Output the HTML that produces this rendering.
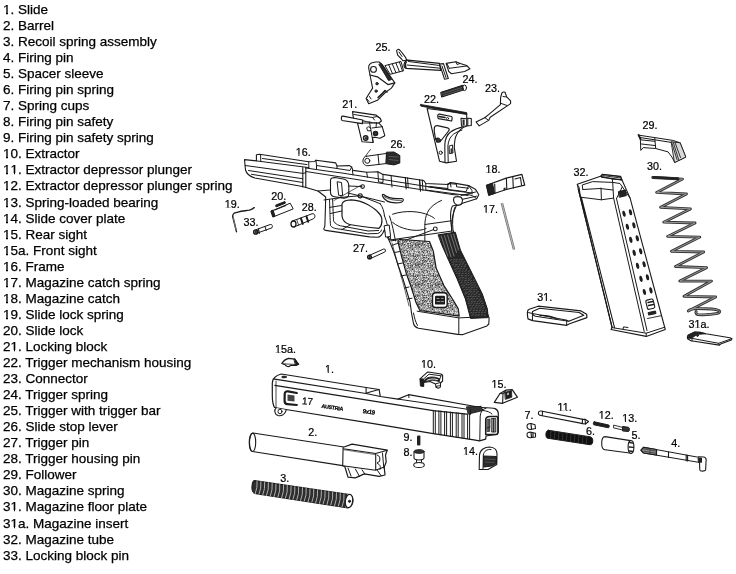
<!DOCTYPE html>
<html><head><meta charset="utf-8">
<style>
html,body{margin:0;padding:0;background:#fff;}
body{width:736px;height:574px;overflow:hidden;position:relative;font-family:"Liberation Sans",sans-serif;filter:blur(0.5px);}
#list{position:absolute;left:3px;top:0;font-size:13.5px;line-height:16px;color:#000;white-space:nowrap;-webkit-text-stroke:0.25px #000;}
#art{position:absolute;left:0;top:0;}
#list>div{position:absolute;left:0;}
.one{position:relative;}
.one::before,.one::after{content:"";position:absolute;background:#fff;top:11.15px;height:2.2px;}
.one::before{left:-0.5px;width:3.85px;}
.one::after{left:4.6px;width:3.2px;}
#art text{font-family:"Liberation Sans",sans-serif;font-size:11px;fill:#000;stroke:#000;stroke-width:0.22px;}
</style></head><body>
<div id="list"><div style="top:2px"><span class="one">1</span>. Slide</div><div style="top:18px">2. Barrel</div><div style="top:34px">3. Recoil spring assembly</div><div style="top:50px">4. Firing pin</div><div style="top:66px">5. Spacer sleeve</div><div style="top:82px">6. Firing pin spring</div><div style="top:98px">7. Spring cups</div><div style="top:114px">8. Firing pin safety</div><div style="top:130px">9. Firing pin safety spring</div><div style="top:146px"><span class="one">1</span>0. Extractor</div><div style="top:162px"><span class="one">1</span><span class="one">1</span>. Extractor depressor plunger</div><div style="top:178px"><span class="one">1</span>2. Extractor depressor plunger spring</div><div style="top:195px"><span class="one">1</span>3. Spring-loaded bearing</div><div style="top:211px"><span class="one">1</span>4. Slide cover plate</div><div style="top:227px"><span class="one">1</span>5. Rear sight</div><div style="top:243px"><span class="one">1</span>5a. Front sight</div><div style="top:259px"><span class="one">1</span>6. Frame</div><div style="top:275px"><span class="one">1</span>7. Magazine catch spring</div><div style="top:291px"><span class="one">1</span>8. Magazine catch</div><div style="top:307px"><span class="one">1</span>9. Slide lock spring</div><div style="top:323px">20. Slide lock</div><div style="top:339px">2<span class="one">1</span>. Locking block</div><div style="top:355px">22. Trigger mechanism housing</div><div style="top:371px">23. Connector</div><div style="top:387px">24. Trigger spring</div><div style="top:403px">25. Trigger with trigger bar</div><div style="top:419px">26. Slide stop lever</div><div style="top:435px">27. Trigger pin</div><div style="top:451px">28. Trigger housing pin</div><div style="top:467px">29. Follower</div><div style="top:483px">30. Magazine spring</div><div style="top:499px">3<span class="one">1</span>. Magazine floor plate</div><div style="top:516px">3<span class="one">1</span>a. Magazine insert</div><div style="top:532px">32. Magazine tube</div><div style="top:548px">33. Locking block pin</div></div>
<svg id="art" width="736" height="574" viewBox="0 0 736 574" fill="none" stroke="#1a1a1a" stroke-width="1" stroke-linejoin="round" stroke-linecap="round">
<defs>
<pattern id="stip" width="20" height="20" patternUnits="userSpaceOnUse"><g stroke="none"><rect width="20" height="20" fill="#9a9a9a"/><rect x="0" y="0" width="1" height="1" fill="#838383"/><rect x="2" y="0" width="1" height="1" fill="#3e3e3e"/><rect x="3" y="0" width="1" height="1" fill="#656565"/><rect x="5" y="0" width="1" height="1" fill="#3c3c3c"/><rect x="7" y="0" width="1" height="1" fill="#757575"/><rect x="8" y="0" width="1" height="1" fill="#d1d1d1"/><rect x="11" y="0" width="1" height="1" fill="#5f5f5f"/><rect x="12" y="0" width="1" height="1" fill="#767676"/><rect x="13" y="0" width="1" height="1" fill="#bfbfbf"/><rect x="15" y="0" width="1" height="1" fill="#606060"/><rect x="16" y="0" width="1" height="1" fill="#e3e3e3"/><rect x="18" y="0" width="1" height="1" fill="#c6c6c6"/><rect x="19" y="0" width="1" height="1" fill="#ebebeb"/><rect x="0" y="1" width="1" height="1" fill="#a2a2a2"/><rect x="1" y="1" width="1" height="1" fill="#dfdfdf"/><rect x="2" y="1" width="1" height="1" fill="#7e7e7e"/><rect x="3" y="1" width="1" height="1" fill="#a5a5a5"/><rect x="4" y="1" width="1" height="1" fill="#525252"/><rect x="6" y="1" width="1" height="1" fill="#575757"/><rect x="8" y="1" width="1" height="1" fill="#e0e0e0"/><rect x="9" y="1" width="1" height="1" fill="#505050"/><rect x="12" y="1" width="1" height="1" fill="#d3d3d3"/><rect x="14" y="1" width="1" height="1" fill="#767676"/><rect x="15" y="1" width="1" height="1" fill="#bababa"/><rect x="16" y="1" width="1" height="1" fill="#d3d3d3"/><rect x="19" y="1" width="1" height="1" fill="#525252"/><rect x="0" y="2" width="1" height="1" fill="#9b9b9b"/><rect x="1" y="2" width="1" height="1" fill="#d9d9d9"/><rect x="2" y="2" width="1" height="1" fill="#7d7d7d"/><rect x="3" y="2" width="1" height="1" fill="#646464"/><rect x="4" y="2" width="1" height="1" fill="#8e8e8e"/><rect x="7" y="2" width="1" height="1" fill="#dfdfdf"/><rect x="8" y="2" width="1" height="1" fill="#dbdbdb"/><rect x="9" y="2" width="1" height="1" fill="#d4d4d4"/><rect x="11" y="2" width="1" height="1" fill="#636363"/><rect x="13" y="2" width="1" height="1" fill="#808080"/><rect x="15" y="2" width="1" height="1" fill="#bfbfbf"/><rect x="16" y="2" width="1" height="1" fill="#818181"/><rect x="17" y="2" width="1" height="1" fill="#727272"/><rect x="1" y="3" width="1" height="1" fill="#6f6f6f"/><rect x="2" y="3" width="1" height="1" fill="#454545"/><rect x="4" y="3" width="1" height="1" fill="#e7e7e7"/><rect x="5" y="3" width="1" height="1" fill="#ababab"/><rect x="6" y="3" width="1" height="1" fill="#d8d8d8"/><rect x="7" y="3" width="1" height="1" fill="#474747"/><rect x="8" y="3" width="1" height="1" fill="#545454"/><rect x="10" y="3" width="1" height="1" fill="#4f4f4f"/><rect x="11" y="3" width="1" height="1" fill="#ebebeb"/><rect x="12" y="3" width="1" height="1" fill="#bababa"/><rect x="13" y="3" width="1" height="1" fill="#939393"/><rect x="15" y="3" width="1" height="1" fill="#565656"/><rect x="18" y="3" width="1" height="1" fill="#7b7b7b"/><rect x="19" y="3" width="1" height="1" fill="#7a7a7a"/><rect x="0" y="4" width="1" height="1" fill="#868686"/><rect x="2" y="4" width="1" height="1" fill="#6d6d6d"/><rect x="4" y="4" width="1" height="1" fill="#404040"/><rect x="6" y="4" width="1" height="1" fill="#d0d0d0"/><rect x="9" y="4" width="1" height="1" fill="#e0e0e0"/><rect x="13" y="4" width="1" height="1" fill="#838383"/><rect x="15" y="4" width="1" height="1" fill="#4e4e4e"/><rect x="17" y="4" width="1" height="1" fill="#707070"/><rect x="18" y="4" width="1" height="1" fill="#464646"/><rect x="19" y="4" width="1" height="1" fill="#575757"/><rect x="1" y="5" width="1" height="1" fill="#525252"/><rect x="5" y="5" width="1" height="1" fill="#b2b2b2"/><rect x="6" y="5" width="1" height="1" fill="#818181"/><rect x="8" y="5" width="1" height="1" fill="#727272"/><rect x="10" y="5" width="1" height="1" fill="#666666"/><rect x="11" y="5" width="1" height="1" fill="#808080"/><rect x="12" y="5" width="1" height="1" fill="#3c3c3c"/><rect x="13" y="5" width="1" height="1" fill="#d4d4d4"/><rect x="14" y="5" width="1" height="1" fill="#d0d0d0"/><rect x="15" y="5" width="1" height="1" fill="#545454"/><rect x="16" y="5" width="1" height="1" fill="#595959"/><rect x="17" y="5" width="1" height="1" fill="#7d7d7d"/><rect x="18" y="5" width="1" height="1" fill="#666666"/><rect x="19" y="5" width="1" height="1" fill="#dbdbdb"/><rect x="0" y="6" width="1" height="1" fill="#c1c1c1"/><rect x="2" y="6" width="1" height="1" fill="#d5d5d5"/><rect x="4" y="6" width="1" height="1" fill="#c9c9c9"/><rect x="5" y="6" width="1" height="1" fill="#737373"/><rect x="6" y="6" width="1" height="1" fill="#e2e2e2"/><rect x="8" y="6" width="1" height="1" fill="#5f5f5f"/><rect x="9" y="6" width="1" height="1" fill="#ebebeb"/><rect x="10" y="6" width="1" height="1" fill="#757575"/><rect x="11" y="6" width="1" height="1" fill="#888888"/><rect x="12" y="6" width="1" height="1" fill="#6a6a6a"/><rect x="13" y="6" width="1" height="1" fill="#e3e3e3"/><rect x="15" y="6" width="1" height="1" fill="#9d9d9d"/><rect x="18" y="6" width="1" height="1" fill="#818181"/><rect x="19" y="6" width="1" height="1" fill="#696969"/><rect x="0" y="7" width="1" height="1" fill="#a3a3a3"/><rect x="1" y="7" width="1" height="1" fill="#e0e0e0"/><rect x="4" y="7" width="1" height="1" fill="#757575"/><rect x="5" y="7" width="1" height="1" fill="#b8b8b8"/><rect x="6" y="7" width="1" height="1" fill="#c3c3c3"/><rect x="7" y="7" width="1" height="1" fill="#d0d0d0"/><rect x="8" y="7" width="1" height="1" fill="#767676"/><rect x="9" y="7" width="1" height="1" fill="#737373"/><rect x="10" y="7" width="1" height="1" fill="#636363"/><rect x="12" y="7" width="1" height="1" fill="#a3a3a3"/><rect x="15" y="7" width="1" height="1" fill="#666666"/><rect x="16" y="7" width="1" height="1" fill="#9a9a9a"/><rect x="19" y="7" width="1" height="1" fill="#505050"/><rect x="5" y="8" width="1" height="1" fill="#cacaca"/><rect x="7" y="8" width="1" height="1" fill="#666666"/><rect x="10" y="8" width="1" height="1" fill="#9a9a9a"/><rect x="12" y="8" width="1" height="1" fill="#6c6c6c"/><rect x="14" y="8" width="1" height="1" fill="#b5b5b5"/><rect x="15" y="8" width="1" height="1" fill="#dbdbdb"/><rect x="19" y="8" width="1" height="1" fill="#d7d7d7"/><rect x="1" y="9" width="1" height="1" fill="#515151"/><rect x="4" y="9" width="1" height="1" fill="#c5c5c5"/><rect x="7" y="9" width="1" height="1" fill="#d1d1d1"/><rect x="8" y="9" width="1" height="1" fill="#d3d3d3"/><rect x="10" y="9" width="1" height="1" fill="#9f9f9f"/><rect x="12" y="9" width="1" height="1" fill="#3c3c3c"/><rect x="15" y="9" width="1" height="1" fill="#d7d7d7"/><rect x="17" y="9" width="1" height="1" fill="#c8c8c8"/><rect x="19" y="9" width="1" height="1" fill="#aeaeae"/><rect x="0" y="10" width="1" height="1" fill="#c6c6c6"/><rect x="2" y="10" width="1" height="1" fill="#b6b6b6"/><rect x="3" y="10" width="1" height="1" fill="#848484"/><rect x="4" y="10" width="1" height="1" fill="#5b5b5b"/><rect x="5" y="10" width="1" height="1" fill="#909090"/><rect x="6" y="10" width="1" height="1" fill="#6b6b6b"/><rect x="9" y="10" width="1" height="1" fill="#cfcfcf"/><rect x="12" y="10" width="1" height="1" fill="#c0c0c0"/><rect x="13" y="10" width="1" height="1" fill="#a4a4a4"/><rect x="14" y="10" width="1" height="1" fill="#888888"/><rect x="15" y="10" width="1" height="1" fill="#d9d9d9"/><rect x="16" y="10" width="1" height="1" fill="#e4e4e4"/><rect x="17" y="10" width="1" height="1" fill="#c0c0c0"/><rect x="19" y="10" width="1" height="1" fill="#ebebeb"/><rect x="0" y="11" width="1" height="1" fill="#d2d2d2"/><rect x="2" y="11" width="1" height="1" fill="#4f4f4f"/><rect x="5" y="11" width="1" height="1" fill="#d7d7d7"/><rect x="6" y="11" width="1" height="1" fill="#aaaaaa"/><rect x="7" y="11" width="1" height="1" fill="#4a4a4a"/><rect x="8" y="11" width="1" height="1" fill="#b9b9b9"/><rect x="9" y="11" width="1" height="1" fill="#5c5c5c"/><rect x="10" y="11" width="1" height="1" fill="#dbdbdb"/><rect x="12" y="11" width="1" height="1" fill="#e1e1e1"/><rect x="14" y="11" width="1" height="1" fill="#797979"/><rect x="19" y="11" width="1" height="1" fill="#676767"/><rect x="0" y="12" width="1" height="1" fill="#b6b6b6"/><rect x="3" y="12" width="1" height="1" fill="#464646"/><rect x="4" y="12" width="1" height="1" fill="#c2c2c2"/><rect x="5" y="12" width="1" height="1" fill="#c6c6c6"/><rect x="7" y="12" width="1" height="1" fill="#5a5a5a"/><rect x="8" y="12" width="1" height="1" fill="#dadada"/><rect x="10" y="12" width="1" height="1" fill="#cccccc"/><rect x="11" y="12" width="1" height="1" fill="#e2e2e2"/><rect x="12" y="12" width="1" height="1" fill="#cccccc"/><rect x="13" y="12" width="1" height="1" fill="#c9c9c9"/><rect x="15" y="12" width="1" height="1" fill="#ebebeb"/><rect x="17" y="12" width="1" height="1" fill="#cccccc"/><rect x="18" y="12" width="1" height="1" fill="#555555"/><rect x="19" y="12" width="1" height="1" fill="#757575"/><rect x="1" y="13" width="1" height="1" fill="#cccccc"/><rect x="2" y="13" width="1" height="1" fill="#d1d1d1"/><rect x="6" y="13" width="1" height="1" fill="#ebebeb"/><rect x="7" y="13" width="1" height="1" fill="#b3b3b3"/><rect x="9" y="13" width="1" height="1" fill="#757575"/><rect x="10" y="13" width="1" height="1" fill="#7a7a7a"/><rect x="11" y="13" width="1" height="1" fill="#b2b2b2"/><rect x="12" y="13" width="1" height="1" fill="#b8b8b8"/><rect x="13" y="13" width="1" height="1" fill="#4a4a4a"/><rect x="15" y="13" width="1" height="1" fill="#b5b5b5"/><rect x="16" y="13" width="1" height="1" fill="#dddddd"/><rect x="17" y="13" width="1" height="1" fill="#d5d5d5"/><rect x="18" y="13" width="1" height="1" fill="#bebebe"/><rect x="2" y="14" width="1" height="1" fill="#686868"/><rect x="3" y="14" width="1" height="1" fill="#e4e4e4"/><rect x="5" y="14" width="1" height="1" fill="#e2e2e2"/><rect x="6" y="14" width="1" height="1" fill="#c8c8c8"/><rect x="10" y="14" width="1" height="1" fill="#636363"/><rect x="11" y="14" width="1" height="1" fill="#d1d1d1"/><rect x="12" y="14" width="1" height="1" fill="#cecece"/><rect x="13" y="14" width="1" height="1" fill="#636363"/><rect x="14" y="14" width="1" height="1" fill="#cdcdcd"/><rect x="17" y="14" width="1" height="1" fill="#808080"/><rect x="1" y="15" width="1" height="1" fill="#b6b6b6"/><rect x="2" y="15" width="1" height="1" fill="#6c6c6c"/><rect x="3" y="15" width="1" height="1" fill="#6f6f6f"/><rect x="4" y="15" width="1" height="1" fill="#3c3c3c"/><rect x="6" y="15" width="1" height="1" fill="#676767"/><rect x="7" y="15" width="1" height="1" fill="#9c9c9c"/><rect x="8" y="15" width="1" height="1" fill="#6a6a6a"/><rect x="11" y="15" width="1" height="1" fill="#888888"/><rect x="12" y="15" width="1" height="1" fill="#6b6b6b"/><rect x="13" y="15" width="1" height="1" fill="#515151"/><rect x="14" y="15" width="1" height="1" fill="#cecece"/><rect x="15" y="15" width="1" height="1" fill="#676767"/><rect x="17" y="15" width="1" height="1" fill="#555555"/><rect x="18" y="15" width="1" height="1" fill="#767676"/><rect x="19" y="15" width="1" height="1" fill="#787878"/><rect x="1" y="16" width="1" height="1" fill="#e9e9e9"/><rect x="4" y="16" width="1" height="1" fill="#d5d5d5"/><rect x="5" y="16" width="1" height="1" fill="#cccccc"/><rect x="7" y="16" width="1" height="1" fill="#e9e9e9"/><rect x="9" y="16" width="1" height="1" fill="#b0b0b0"/><rect x="10" y="16" width="1" height="1" fill="#707070"/><rect x="13" y="16" width="1" height="1" fill="#5c5c5c"/><rect x="14" y="16" width="1" height="1" fill="#676767"/><rect x="15" y="16" width="1" height="1" fill="#404040"/><rect x="16" y="16" width="1" height="1" fill="#c1c1c1"/><rect x="17" y="16" width="1" height="1" fill="#525252"/><rect x="1" y="17" width="1" height="1" fill="#b6b6b6"/><rect x="3" y="17" width="1" height="1" fill="#4e4e4e"/><rect x="4" y="17" width="1" height="1" fill="#555555"/><rect x="5" y="17" width="1" height="1" fill="#9b9b9b"/><rect x="6" y="17" width="1" height="1" fill="#474747"/><rect x="8" y="17" width="1" height="1" fill="#d9d9d9"/><rect x="10" y="17" width="1" height="1" fill="#e0e0e0"/><rect x="11" y="17" width="1" height="1" fill="#cacaca"/><rect x="12" y="17" width="1" height="1" fill="#d3d3d3"/><rect x="15" y="17" width="1" height="1" fill="#d1d1d1"/><rect x="16" y="17" width="1" height="1" fill="#525252"/><rect x="17" y="17" width="1" height="1" fill="#ebebeb"/><rect x="19" y="17" width="1" height="1" fill="#d1d1d1"/><rect x="2" y="18" width="1" height="1" fill="#8d8d8d"/><rect x="3" y="18" width="1" height="1" fill="#8a8a8a"/><rect x="6" y="18" width="1" height="1" fill="#aaaaaa"/><rect x="7" y="18" width="1" height="1" fill="#bbbbbb"/><rect x="8" y="18" width="1" height="1" fill="#3c3c3c"/><rect x="11" y="18" width="1" height="1" fill="#d3d3d3"/><rect x="12" y="18" width="1" height="1" fill="#b9b9b9"/><rect x="13" y="18" width="1" height="1" fill="#707070"/><rect x="15" y="18" width="1" height="1" fill="#848484"/><rect x="16" y="18" width="1" height="1" fill="#bdbdbd"/><rect x="17" y="18" width="1" height="1" fill="#c6c6c6"/><rect x="18" y="18" width="1" height="1" fill="#7d7d7d"/><rect x="19" y="18" width="1" height="1" fill="#c5c5c5"/><rect x="2" y="19" width="1" height="1" fill="#e9e9e9"/><rect x="3" y="19" width="1" height="1" fill="#787878"/><rect x="5" y="19" width="1" height="1" fill="#d2d2d2"/><rect x="6" y="19" width="1" height="1" fill="#d5d5d5"/><rect x="8" y="19" width="1" height="1" fill="#595959"/><rect x="9" y="19" width="1" height="1" fill="#a2a2a2"/><rect x="10" y="19" width="1" height="1" fill="#a1a1a1"/><rect x="11" y="19" width="1" height="1" fill="#cbcbcb"/><rect x="15" y="19" width="1" height="1" fill="#5e5e5e"/><rect x="16" y="19" width="1" height="1" fill="#545454"/><rect x="17" y="19" width="1" height="1" fill="#787878"/><rect x="18" y="19" width="1" height="1" fill="#e8e8e8"/></g></pattern>
</defs>
<!-- 25 trigger with trigger bar -->
<g id="p25">
<path d="M368.7,68.1 C368.5,65.5 370,63.5 372,62.8 L375.7,62 L379.2,62 L382.2,64.6 L394.8,82.9 L391.4,88.1 L385.3,92.5 L377.4,100.3 L368.7,103.8 L366.1,98.6 L368.7,94.2 L372.6,88.1 L370,75 Z" fill="#fff" stroke-width="1.1"/>
<circle cx="373.5" cy="69.4" r="2.9" stroke-width="1.1"/>
<path d="M370,75 L377.4,76.8 L387.9,84.6 L394.8,82.9" stroke-width="1.2"/>
<path d="M379,64.5 L388.5,80.5 L391.5,79.5 L381.5,63.8 Z" fill="#2a2a2a"/>
<circle cx="377" cy="83.7" r="1.2" fill="#555"/><circle cx="376.1" cy="91.1" r="1.2" fill="#555"/>
<path d="M378,97.5 C381,95 383,93 385,90.5 L387,92" stroke-width="1.5"/>
<path d="M367,99 L369,101.5 M369.5,96.5 L371,99" />
<path d="M385.3,65.5 L401,61.5 L403.6,70.7 L390.5,74.2 Z" fill="#fff"/>
<path d="M388.7,64.8 L392.5,73.7 M392.3,63.9 L396,72.8 M395.9,63 L399.5,71.9 M399.4,62.1 L402.5,71"/>
<path d="M396.6,50.9 C397,49.5 398.5,49 399.5,49.8 L401.5,52 L404.8,56.3 L407,60.1 L403,60.8 L401.5,59 L397.7,55.2 Z" fill="#fff" stroke-width="1.1"/>
<path d="M399,52 L402,56.5"/>
<path d="M408,60.1 L439.6,63.4 L440.7,70.4 L405.9,68.3 C404,67.5 403.8,65 404.5,63 C405.2,61 406.5,60.2 408,60.1 Z" fill="#fff" stroke-width="1.2"/>
<path d="M408.5,61.5 L439.8,65.5 M407,65 L440.2,68.2"/>
<path d="M406.5,62 C405,63 404.8,66 406,67.5" stroke-width="1.5"/>
<path d="M439.6,64 L443.5,63.6 L448.3,78.5 L444.5,79.2 Z" fill="#fff" stroke-width="1.1"/>
<path d="M442,66 L446,77.5"/>
<path d="M446.1,63.4 L455.9,61.7 L460.2,63.4 L466.7,65.5 L470,68.8 L464.6,71.5 L451.5,73.7 L448.8,71.5 Z" fill="#fff" stroke-width="1.1"/>
<path d="M449.3,68.3 L466.7,66 M447,63.8 L449.3,68.3 M455.9,61.7 L457,64.5 L460.2,63.4" />
</g>
<!-- 24 spring -->
<g id="p24">
<path d="M441,92.3 L462.5,85.3 L463.5,90 L442,97 Z" fill="#2a2a2a"/>
<path d="M443,93.5 L462,87.5 M443.5,95.5 L462.5,89.3" stroke="#888" stroke-width="0.5"/>
<ellipse cx="464.5" cy="87.8" rx="2" ry="2.8"/>
</g>
<!-- 23 connector -->
<g id="p23">
<path d="M501.5,94.5 C501.5,92.3 503.5,91.5 505,92.3 L506.7,96.9 L510.6,100.9 L510.6,103.6 L490.2,117.3 L488.6,120.4 L479.2,125.9 L476.1,122 L484.7,117.8 L488.6,114.6 L500.4,104.6 L500.6,97.5 Z" fill="#fff" stroke-width="1.1"/>
<path d="M500.5,103.2 L506.7,105.4 M484.7,117.5 L488.6,120.4 M503,96.5 L506.5,97"/>
</g>
<!-- 21 locking block -->
<g id="p21">
<path d="M357.5,123 L362,141.7 L373.2,142.5 L372.5,137.5 L374.7,137.2 L380,138.3 L384.8,135.7 L382.2,126.7 L378.8,123 Z" fill="#fff" stroke-width="1.1"/>
<path d="M352.6,111.7 L376.2,115.1 L380,118.1 L381.4,121.1 L378.8,123 L372,122.5 L366,121.5 L353.5,118.5 L353,115.5 Z" fill="#fff" stroke-width="1.2"/>
<path d="M354,114.5 L372.5,117.5 L374.5,120 M372.5,117.5 L377,116.5 L380,118.1"/>
<path d="M341.6,117 C341.8,116 342.5,116 343,116.2 L362.7,120 L362.3,123.7 L342,120.5 C341.3,120 341.3,118 341.6,117 Z" fill="#fff" stroke-width="1.2"/>
<path d="M371,130.5 L373,142 M372,128 L382.2,126.7 M376.5,122.5 L376,127.5 M369.5,122 L370.5,128.5"/>
<path d="M366.8,128.5 C366.5,127 368,126.5 369.5,127 L371,129 L370.5,130.8 L368,130.8 Z"/>
<circle cx="365.7" cy="138" r="2.2" fill="#fff" stroke-width="1.4"/><circle cx="365.9" cy="138.2" r="0.8" fill="#333"/>
<circle cx="375.5" cy="133.5" r="2.2" fill="#333" stroke-width="1.1"/>
</g>
<!-- 26 slide stop -->
<g id="p26">
<path d="M370.5,149.4 L363.6,158.7" stroke-width="0.8"/>
<path d="M366.4,156.3 L386.8,153.4 L386,163.6 L368,165.7 C364,166 362.5,162.5 363,160 C363.5,157.5 365,156.5 366.4,156.3 Z" fill="#fff"/>
<circle cx="367.3" cy="160.8" r="2.5"/>
<path d="M378,154.5 L379,164.5"/>
<path d="M386.8,152.2 L394,152 L399.8,155.5 L399.8,163 L394,164.9 L386.5,163.8 Z" fill="#2b2b2b"/>
<path d="M389,156.5 L398,157 M389,159.5 L398,160.5" stroke="#777" stroke-width="0.6"/>
</g>
<!-- 22 trigger mechanism housing -->
<g id="p22">
<path d="M427.1,108.5 L439.5,161.2 L446.3,162.9 L456.5,161.2 L454.3,147.6 C454.5,141 455,138 456,136 C458,131 461,128 466.7,126 L471.3,125.5 L471.3,118.5 L466.7,118.1 L466.7,113.6 Z" fill="#fff" stroke-width="1.1"/>
<path d="M420.8,104.5 L466.7,112.6 L466.7,114.6 L421,106.2 C420.2,105.8 420.2,104.8 420.8,104.5 Z" fill="#1e1e1e" stroke-width="0.8"/>
<path d="M437.8,115.5 C437.8,114.5 438.5,114 439.5,114.2 L451.5,116.5 C452.3,116.8 452.3,118 452,119.5 L451.5,121 L438.5,118.7 C437.8,118.3 437.7,117 437.8,115.5 Z" fill="#fff" stroke-width="1.2"/>
<path d="M439,116.5 L445,117.6" stroke-width="1.5"/>
<circle cx="447.5" cy="118.6" r="1.1" fill="#fff" stroke-width="0.9"/>
<path d="M434.4,127.5 C434.8,126 436,125.5 437.5,125.6 L447.5,127.8 C449.5,128.3 449.5,130 448.6,131 L441.5,140 C440.5,141.5 439,142 437.5,141 L435.5,139 L434.2,131 Z" fill="#fff" stroke-width="1.2"/>
<path d="M436.3,138.3 C437.5,137.5 439.5,138 440.5,139.5 L440.3,142 L437,142.2 Z" fill="#333"/>
<path d="M445,162 L444.8,145 C445,139 447.5,134 450.9,131.7 C454,129.5 458,128 463.3,126.6" stroke-width="1.1"/>
<path d="M448.2,162.3 L447.9,146 C448.2,140.5 450.5,136.5 453.5,134.2 C456,132.3 459,131 462,130"/>
<path d="M449.5,146 L452.5,145 L453,153 L449.7,153.5 Z" fill="#fff"/>
<path d="M450.5,148.5 L452.5,148.2 L452.7,153 L450.6,153.3 Z" fill="#333" stroke="none"/>
<circle cx="440.7" cy="152.7" r="1.6" stroke-width="1"/>
<path d="M461,118.3 L466.7,118.7 L466.7,125.8 L461.5,126 Z" fill="#fff" stroke-width="1.1"/>
<path d="M462.5,119.5 L464.6,119.6 L464.6,125 L462.6,125.2 Z" fill="#2a2a2a" stroke="none"/>
<path d="M467.8,118.6 L467.8,125.6" />
</g>
<!-- 16 frame -->
<g id="p16">
<path d="M244.5,159.6 L256.4,160.9 L256.4,154.7 L259.5,154.3 L308.7,161.8 L314.7,161.5 L316,160.2 L335.7,162.9 L337,166 L349.5,165.6 L351.6,167 L353,170.4 L366.7,172.3 L377.9,171.7 L383,174.4 L423.7,180.5 L425.8,183.5 L448.2,184.5 L450.2,182.5 L454.3,183.1 L468.6,185.6 L475.7,189.6 L478.8,194.7 L476.7,198.8 L462.5,203.2 C461,205 459,205.5 457,205 L452.5,206 C449,212 451,225 452,231 L390,240 C387,236 385.5,233 384.5,229.5 C382,236 380,237.3 377.1,237.3 L369.5,236.9 L325.7,230.4 C324.5,230.3 323.8,229.5 323.8,228.8 L324.8,226.4 C325.3,215 325.5,205 325.7,197 L318,191 L302.5,186.5 L254.9,178 C250,176.5 246.5,174 245.5,170 Z" fill="#fff" stroke-width="1.1"/>
<!-- front rail details -->
<path d="M245.2,165.5 L302.8,173.4 L305.8,172.8 M248.5,170.5 L302.8,178.8 M251.5,174.3 L302.8,182.5"/>
<path d="M256.4,160.9 L308.7,167.6 M260.6,154.6 L260.8,161.3 M262.5,158.5 L307,164.6 M308.7,161.8 L308.9,167.8"/>
<path d="M302.8,167.5 L302.8,187 M305.8,167.6 L305.8,187.5" stroke-width="1.1"/>
<path d="M316,160.2 L316.5,165.5 L337,168.5 L337,166 M316.5,165.5 L316.5,169 M337,168.5 L350,170.5 L351.6,167"/>
<path d="M305.8,168 L330,171.5 L342,173 L452,190.5 L472,193 M306,171.5 L452,194.5 L458,195"/>
<path d="M352.4,170.3 L353,175 M366.7,172.3 L367.5,177.3 M377.9,171.7 L378.5,182 L383,182.5 L383,174.4 M391.1,176 L392,187 M405.4,178.3 L406.2,189 M419.7,180.5 L420.5,191.3" />
<path d="M425.8,183.5 L425.8,190 L468,195.5 M428,186.8 L466,191.8 L468.6,185.6" />
<path d="M450.2,182.5 L451,187 M468.6,185.6 L472,190.5 L472,194"/>
<path d="M462.5,195 C466,194 472,194 476.7,198.8" />
<path d="M447.8,188.5 L447.8,183.5 L456.5,184.2 L456.5,186.8 L468.5,188.2 M430,186.5 L447.8,188.5 M461,195.5 L475.5,192 M462.5,199.3 L476.5,196.2 M405.4,177.5 L406,187.5 M407.6,177.8 L408.2,187.8 M419.6,179.6 L420.2,190 M422.3,180 L422.9,190.5"/>
<path d="M454,197.5 C453,200 453.8,204 457,205 C460,205.6 462.5,203.5 462.5,200.5 C462.3,197.5 460,196.5 457.5,196.6 C456,196.6 454.8,197 454,197.5 Z" fill="#fff" stroke-width="1.1"/>
<g transform="translate(0.5,2.3)"><path d="M330,178 C330,176 332,175 336,175.5 L344,177 C347,178 348,180 348.3,183 L348.3,192 C348,195 346,196 343,195.8 L334,194.5 C331,194 330,192.5 330,190 Z" fill="#fff" stroke-width="1.1"/>
<path d="M337,179.5 L341,180.2 L342.2,193.5 L338.5,193 Z"/></g>
<path d="M318,191 L330,190 M348.3,186 L362,186.6 M324,200 L345,197 L360,195.8 L380.5,203.8 M348,193 L384.5,202"/>
<path d="M334,200.5 L360.5,185.5" stroke-width="0.7"/>
<circle cx="362.6" cy="186.6" r="1.8" stroke-width="1.1"/><circle cx="360.2" cy="195.8" r="2.1" stroke-width="1.1"/>
<!-- slot -->
<path d="M382.5,196 C382,194.5 383,194 384,194.8 C387,197.5 394,199 401,198.5 C402.5,198.4 403.5,199 403.2,200.3 C402.8,202 400,202.8 396,202.8 C389,202.7 384,200 382.5,196 Z" fill="#fff" stroke-width="1.2"/>
<path d="M384,196.5 C388,199.5 395,200.8 401.5,200.3" stroke-width="0.8"/>
<!-- trigger guard -->
<path d="M342,204 C342.5,201.5 345,200 351.4,199.8 C358,200 363,202 367.6,204.5 C372,207 375,209 377.1,211.2 C380,214 381.5,216 381.8,218.5 C382.2,222 381.5,226 379,228.3 C370,227.5 360,226.5 349.5,224.5 C345,223 342.5,220 342,216 Z" stroke-width="1.2"/>
<path d="M329.5,199.7 C330,210 330,220 330.5,225.5 C332,228 336,229 341.9,229.3 M332.6,199 C333,208 333.3,216 333.5,220.7 C335,224 339,226 343.8,226.4"/>
<path d="M329.5,207.4 L341.5,205.5 M330.5,213.5 L341.8,211" />
<path d="M342,229.5 L367.6,233.8 L377.5,233.5 C379.5,233 381,232 381.5,230 M343.8,226.4 L368,231 L378.5,230.5 M342,229.5 L350.5,224.8"/>
<!-- grip upper area -->
<path d="M384.5,215.9 C387,222 389,232 391,240 M389.5,216 C392,223 394,233 395.5,241"/>
<path d="M384.5,225.7 L389.2,225 L390.6,236.5 L386,237.1 Z" fill="#fff"/>
<path d="M380.2,203.8 C383,207 384,212 384.5,215.9"/>
<path d="M392.6,214.2 C405,210 420,211 429.5,215.5 C433,217 434,218 434.5,218.5 M392.6,222.4 C400,229 415,232 423.5,229.5 L426,228.5"/>
<path d="M425.1,255 C425,242 424.5,230 425,222 C426,213 429,206 441.5,200.4"/>
<path d="M425,224.5 L451.3,220.8"/>
<path d="M392.6,245.2 L435.3,228.9"/>
<circle cx="435.3" cy="228.9" r="1.9" fill="#fff" stroke-width="1.1"/>
<path d="M454.6,207.7 C452.5,215 452.2,223 453,230 L454.5,234.5"/>
<!-- grip front & back -->
<path d="M387.6,237.6 C391,244 395,255 398,265 L403,279 L410,302 L411.7,314.2 L413.6,324 C414.5,326.5 416,327.8 418.5,328.3 L457.6,334.4 L463,334.6 L486.9,325.9 L488.8,324 L489.1,318 L487.5,314 L480,297 L472.6,284.7 L462,263 L455,248.3 L451.5,229.4 C451.5,218 453,212 456.5,205.2" stroke-width="1.1"/>
<path d="M417.2,311.2 L458.8,317.9 L485.7,316.7 M458.8,317.9 L458.8,334.4 M413.5,313 C414.5,318 415.5,322 417.5,325.5"/>
<path d="M391,241 L397.5,239.8 M394.5,252.5 L400,251.5 M397.5,264 L402.5,263 M401,276 L406,275 M404.5,288 L409,287 M407.5,299 L412,298.2"/>
<path d="M392,243 C395,255 399,268 402.5,281 C405,290 407,298 409,306" stroke-width="0.7"/>
<!-- stipple panel -->
<path d="M397.9,241.5 C398,239.5 400,239.3 402,239.5 L429.5,241.5 L433.3,251.1 L436.2,268.3 L443.9,285.6 L452.5,299 L458.2,308.5 L459.2,316.2 L419.9,310.5 L416.1,302.8 L411.3,287.5 L406.5,274.1 L401.7,256.8 Z" fill="url(#stip)" stroke-width="1.2"/>
<rect x="432.5" y="292.8" width="14.7" height="14.7" rx="3.2" fill="#fff" stroke-width="1.4"/>
<rect x="435" y="295.8" width="10" height="8.8" rx="1.2" fill="#1e1e1e" stroke="none"/>
<path d="M437,298.5 L439,298.5 M437,301.5 L440,301.5 M441.5,298.5 L443,298.5 M441.5,301.5 L443.5,301.5" stroke="#ccc" stroke-width="0.7"/>
<!-- backstrap -->
<path d="M438.4,234.8 L455.3,232.2 L460.4,250 L472.2,273.6 L482.3,293.9 L487.4,309.1 L488.2,317.6 L470.5,318.4 L465.4,299 L457,278.7 L448.5,260.1 L441.8,244.9 Z" fill="#262626" stroke-width="1"/>
<path d="M441.2,236 L447.8,256 M444.4,235.5 L451,257 M447.6,235 L454,256 M450.8,234.3 L456.5,252.5 M453.5,234 L458.5,250" stroke="#8a8a8a" stroke-width="0.8"/>
<path d="M450.3,260.3 l1.6,-0.6 M453.3,260.1 l1.5,-0.6 M455.9,260.1 l1.5,-0.6 M459.1,259.9 l1.1,-0.6 M461.2,260.1 l1.8,-0.6 M452.2,262.4 l2.0,-0.6 M455.6,262.0 l1.2,-0.6 M458.2,262.1 l1.1,-0.6 M460.5,262.3 l1.0,-0.6 M462.9,262.3 l1.8,-0.6 M452.5,264.6 l1.7,-0.6 M455.4,264.9 l2.0,-0.6 M459.1,264.5 l1.7,-0.6 M462.0,264.3 l1.3,-0.6 M464.9,264.8 l1.4,-0.6 M454.2,266.6 l1.8,-0.6 M457.3,266.9 l1.9,-0.6 M461.0,266.6 l1.4,-0.6 M463.9,266.8 l1.8,-0.6 M454.4,269.4 l2.0,-0.6 M457.4,269.0 l1.2,-0.6 M459.7,269.0 l1.8,-0.6 M463.0,269.0 l1.4,-0.6 M466.0,269.3 l1.1,-0.6 M455.5,271.4 l1.2,-0.6 M458.5,271.4 l1.8,-0.6 M462.0,271.4 l1.2,-0.6 M464.9,271.3 l1.6,-0.6 M468.4,271.4 l1.2,-0.6 M456.5,273.5 l1.3,-0.6 M458.8,273.6 l1.6,-0.6 M461.9,273.8 l1.4,-0.6 M465.0,273.8 l1.5,-0.6 M468.2,273.6 l1.2,-0.6 M458.2,275.9 l1.2,-0.6 M461.1,275.9 l1.9,-0.6 M464.8,276.2 l1.9,-0.6 M468.0,275.8 l1.1,-0.6 M470.9,276.2 l1.2,-0.6 M459.3,278.3 l1.6,-0.6 M462.0,278.1 l1.7,-0.6 M464.9,278.6 l1.6,-0.6 M468.0,278.7 l1.3,-0.6 M470.4,278.3 l1.0,-0.6 M459.1,280.6 l1.2,-0.6 M461.8,280.6 l1.1,-0.6 M464.6,280.8 l2.0,-0.6 M468.1,280.5 l1.6,-0.6 M470.7,280.9 l1.0,-0.6 M473.3,280.4 l1.4,-0.6 M460.7,282.9 l1.7,-0.6 M464.2,283.0 l1.1,-0.6 M466.9,283.1 l1.9,-0.6 M470.4,283.2 l1.8,-0.6 M473.4,283.2 l1.7,-0.6 M461.6,285.5 l1.8,-0.6 M464.8,285.2 l1.6,-0.6 M467.9,285.0 l1.6,-0.6 M471.0,285.5 l2.0,-0.6 M474.6,285.4 l1.4,-0.6 M462.5,287.4 l1.8,-0.6 M466.0,287.7 l1.0,-0.6 M468.4,287.7 l1.2,-0.6 M471.0,287.9 l1.6,-0.6 M473.8,287.5 l1.0,-0.6 M476.4,287.4 l1.2,-0.6 M463.8,290.1 l1.4,-0.6 M466.5,289.7 l1.7,-0.6 M469.5,290.1 l1.8,-0.6 M473.0,289.9 l1.4,-0.6 M475.7,289.9 l1.1,-0.6 M465.1,292.5 l1.7,-0.6 M468.0,292.2 l1.2,-0.6 M470.4,292.1 l1.2,-0.6 M473.1,292.1 l1.5,-0.6 M476.3,292.2 l2.0,-0.6 M464.8,294.2 l1.9,-0.6 M468.2,294.4 l1.6,-0.6 M471.4,294.3 l1.0,-0.6 M473.8,294.7 l1.0,-0.6 M476.0,294.2 l1.1,-0.6 M478.7,294.6 l1.4,-0.6 M466.9,296.9 l2.0,-0.6 M470.0,296.6 l1.5,-0.6 M472.5,296.9 l1.5,-0.6 M475.1,296.7 l1.3,-0.6 M477.9,296.9 l1.5,-0.6 M467.2,299.3 l1.8,-0.6 M470.1,299.2 l1.9,-0.6 M473.1,299.2 l1.5,-0.6 M476.3,299.1 l1.4,-0.6 M479.4,299.4 l1.8,-0.6 M468.2,301.5 l1.2,-0.6 M471.1,301.5 l1.6,-0.6 M473.9,301.7 l1.9,-0.6 M477.6,301.6 l1.5,-0.6 M480.4,301.6 l1.9,-0.6 M468.0,303.7 l1.4,-0.6 M471.0,303.4 l1.5,-0.6 M474.1,303.9 l1.1,-0.6 M476.4,303.9 l1.3,-0.6 M478.8,303.7 l1.1,-0.6 M481.5,303.8 l1.8,-0.6 M469.2,305.8 l1.9,-0.6 M472.3,305.9 l1.5,-0.6 M475.4,306.0 l1.6,-0.6 M478.7,305.9 l1.6,-0.6 M481.6,306.2 l1.8,-0.6 M470.3,308.3 l2.0,-0.6 M473.7,308.3 l1.2,-0.6 M476.4,308.0 l1.6,-0.6 M479.7,308.2 l1.5,-0.6 M482.9,308.3 l1.6,-0.6 M469.7,310.5 l1.5,-0.6 M473.1,310.5 l1.9,-0.6 M476.4,310.6 l1.1,-0.6 M479.1,310.6 l1.9,-0.6 M482.3,310.7 l1.2,-0.6 M485.2,310.8 l1.1,-0.6 M470.5,313.0 l1.2,-0.6 M473.0,313.0 l1.4,-0.6 M475.5,312.7 l1.7,-0.6 M478.6,312.7 l1.3,-0.6 M481.3,312.8 l1.4,-0.6 M484.1,312.7 l1.5,-0.6 M471.8,315.2 l1.6,-0.6 M475.1,315.4 l1.6,-0.6 M477.9,315.4 l1.7,-0.6 M481.4,315.1 l1.3,-0.6 M484.4,315.5 l1.2,-0.6" stroke="#7a7a7a" stroke-width="0.6"/>
</g>
<!-- 18 magazine catch -->
<g id="p18">
<path d="M486.7,185.2 L506.2,178.1 L521.9,174.3 L524.7,185.2 L506.2,189.5 L489,195.2 Z" fill="#fff" stroke-width="1.2"/>
<path d="M486.7,185.2 L492.5,183.2 L494.5,193.5 L489,195.2 Z" fill="#222" stroke-width="1"/>
<path d="M494.7,184 L495,193.5 M506.4,178.5 L506.8,189.5 M512.8,177 L513.3,188 M515,179 L520.5,177.5 L521.5,185" stroke-width="1.1"/>
<path d="M503.5,188 L505.5,187.5 L505.6,190 L503.6,190.4 Z" fill="#222" stroke="none"/>
</g>
<!-- 17 spring -->
<path d="M501.2,203.6 L513.2,249.4 M502.7,203.3 L514.7,249.1" stroke="#555" stroke-width="0.8"/><path d="M502,203.5 L514,249.3" stroke="#999" stroke-width="0.6"/>
<!-- 19 slide lock spring -->
<path d="M254.3,207.7 C252,209 251,209.8 249.4,210.1 C245,210.8 241,211.2 238.9,211.8 L234.1,213.2 C233,214 232.6,215 232.7,216.5 L236.5,231.7" stroke-width="1.4"/><path d="M233.3,218 L236.2,230.5" stroke="#666" stroke-width="1.2"/>
<!-- 20 slide lock -->
<g id="p20">
<path d="M271.2,211.2 L290.2,203.2 L293.2,208.9 L273.2,216.9 Z" fill="#fff"/>
<path d="M271.2,211.2 L273.2,216.9 L275,216.2 L273.2,210.5 Z" fill="#222"/>
<path d="M276,205 L285,201.5 L285.3,203.2 L276.4,206.8 Z" fill="#222"/>
<path d="M275,210 L286,205.5"/>
</g>
<!-- 33 locking block pin -->
<g id="p33">
<path d="M256.5,229.5 L270.2,224.5 C272,224 273,226 272,227.8 L257.5,233 Z" fill="#fff"/>
<ellipse cx="255.7" cy="232" rx="2" ry="2.1" fill="#fff" stroke-width="1.5"/><circle cx="255.7" cy="232" r="0.7" fill="#333"/><path d="M258.5,229.2 L259.3,233.3" stroke-width="1.2"/>
<path d="M265,226.5 L266.2,230.5"/>
</g>
<!-- 28 trigger housing pin -->
<g id="p28">
<path d="M292.5,221 L312,213.8 C315,213 316,217 313.6,218.7 L294.5,226.8 Z" fill="#fff"/>
<ellipse cx="293.5" cy="224" rx="2.5" ry="3" fill="#fff" stroke-width="1.3"/>
<path d="M301,218.6 L302.8,223.8 M306.5,216.6 L308.2,221.7" stroke-width="2"/><path d="M297,220.2 L298.6,225.3" stroke-width="0.8"/>
</g>
<!-- 27 trigger pin -->
<g id="p27">
<path d="M369.5,255.3 L383.7,249 C385.5,248.5 386,251 384.8,252 L370,258.8 Z" fill="#fff"/>
<circle cx="369.5" cy="257" r="1.8" fill="#fff" stroke-width="1.5"/><circle cx="369.5" cy="257" r="0.6" fill="#333"/>
</g>
<!-- 29 follower -->
<g id="p29">
<path d="M638.4,135.1 L672.9,140.4 L680.1,142.8 L685.8,157.1 L674.8,162.4 L671.9,157.1 L668.1,151.9 L655.7,148.5 L643.2,147.6 L640.8,150.4 L640.3,138 Z" fill="#fff"/>
<path d="M638.4,135.1 L640,137.5 L672,142.5 L680.1,142.8 M654.7,137.5 L655.7,148.5 M641.3,139.9 L654.7,141.3 M641.5,144 L654.7,145.5"/>
<path d="M671.5,141.8 L680.1,142.8 L685.8,157.1 L674.8,162.4 Z" fill="#d8d8d8" stroke-width="0.9"/><path d="M671.5,142 L677,159.5 M675,142.5 L680.5,157.5 M673.2,142.2 L678.7,159.8" stroke="#333" stroke-width="1"/>
<path d="M638.6,135 L640.5,139" stroke-width="1.8"/>
</g>
<!-- 30 magazine spring -->
<g id="p30">
<path d="M652.7,177.5 L682.5,179.1 L656.6,192.4 L686.5,194 L660.6,207.3 L690.4,208.9 L663.7,222.2 L695.1,223 L667.6,236.4 L699.8,237.1 L671.5,251.3 L703.7,252 L675.5,266.5 L706.6,267.7 L679.8,281.1 L711.5,281.1 L684,296.3 L715.7,297 L688.3,311 C690,309 694,308.5 698,308.5 C706,308.5 716,309 718.8,310.4 C720.5,311.5 719.5,313 717.6,313.4 C712,314.5 703,315 698,314.6 C696,314.3 695.5,312.5 696.2,311.6" stroke="#333" stroke-width="2.8"/>
<path d="M652.7,177.5 L682.5,179.1 L656.6,192.4 L686.5,194 L660.6,207.3 L690.4,208.9 L663.7,222.2 L695.1,223 L667.6,236.4 L699.8,237.1 L671.5,251.3 L703.7,252 L675.5,266.5 L706.6,267.7 L679.8,281.1 L711.5,281.1 L684,296.3 L715.7,297 L688.3,311 C690,309 694,308.5 698,308.5 C706,308.5 716,309 718.8,310.4 C720.5,311.5 719.5,313 717.6,313.4 C712,314.5 703,315 698,314.6 C696,314.3 695.5,312.5 696.2,311.6" stroke="#9a9a9a" stroke-width="1"/>
<path d="M653.5,177.2 L678,178.6" stroke="#222" stroke-width="2.6"/>
</g>
<!-- 32 magazine tube -->
<g id="p32">
<path d="M577.3,184.2 L600.5,176.3 L602.2,174.6 L620.5,176.8 L623.1,182.4 L630.1,198.1 L664.2,325.5 L665.3,329.5 L646.2,336.4 L611,329.5 L612.1,327.5 L578.3,189 Z" fill="#fff" stroke-width="1.1"/>
<path d="M578.3,189 L612.1,327.5 M581.3,197.2 L614.6,327.8" stroke-width="1.1"/>
<path d="M613.6,198.1 L644.2,331.5 M616.5,198.5 L647,330.5 M622.3,186.8 L630.1,198.1"/>
<path d="M577.5,185 L579,187 L580.5,197.2 L601.4,199.8 L613.6,198.1 L612.7,182.4 L592.6,181.6 L582.2,185 L582.8,189.5 M612.7,182.4 L620,183.5 L622.3,186.8 L616.5,198.5"/>
<path d="M601.4,199.8 L601,188 M583,189.5 L600,188.5 L612.8,190"/>
<path d="M602.2,174.3 L620.5,176.5 L621.8,179.9 L601.5,177.2 Z" fill="#fff" stroke-width="1.3"/><path d="M603,175.6 L620.8,178" stroke-width="0.9"/>
<path d="M600.5,176.3 L612.3,179 L612.7,182.4 M612.3,179 L621.8,179.9"/>
<path d="M618.8,191.5 L625.5,190 L626.4,195.6 L619.6,197.2 Z" fill="#222"/>
<path d="M612.2,327.6 L646.2,333.2 L664.7,327.2 M623,329.2 L623.5,326.9 L628,327.5 M646.2,333.2 L646.2,336.4"/>
<g fill="#1e1e1e" stroke="none">
<ellipse cx="624.0" cy="213.8" rx="1.55" ry="3.1" transform="rotate(-12 624.0 213.8)"/>
<ellipse cx="630.5" cy="212.2" rx="1.55" ry="3.1" transform="rotate(-12 630.5 212.2)"/>
<ellipse cx="627.4" cy="226.8" rx="1.55" ry="3.1" transform="rotate(-12 627.4 226.8)"/>
<ellipse cx="633.9" cy="225.2" rx="1.55" ry="3.1" transform="rotate(-12 633.9 225.2)"/>
<ellipse cx="630.8" cy="239.9" rx="1.55" ry="3.1" transform="rotate(-12 630.8 239.9)"/>
<ellipse cx="637.3" cy="238.3" rx="1.55" ry="3.1" transform="rotate(-12 637.3 238.3)"/>
<ellipse cx="634.2" cy="252.9" rx="1.55" ry="3.1" transform="rotate(-12 634.2 252.9)"/>
<ellipse cx="640.7" cy="251.3" rx="1.55" ry="3.1" transform="rotate(-12 640.7 251.3)"/>
<ellipse cx="637.6" cy="265.9" rx="1.55" ry="3.1" transform="rotate(-12 637.6 265.9)"/>
<ellipse cx="644.1" cy="264.3" rx="1.55" ry="3.1" transform="rotate(-12 644.1 264.3)"/>
<ellipse cx="641.0" cy="278.9" rx="1.55" ry="3.1" transform="rotate(-12 641.0 278.9)"/>
<ellipse cx="647.5" cy="277.3" rx="1.55" ry="3.1" transform="rotate(-12 647.5 277.3)"/>
<ellipse cx="644.4" cy="292.0" rx="1.55" ry="3.1" transform="rotate(-12 644.4 292.0)"/>
<ellipse cx="650.9" cy="290.4" rx="1.55" ry="3.1" transform="rotate(-12 650.9 290.4)"/>
</g>
<path d="M647.5,318.5 L661.2,315.7" stroke-width="0.9"/>
<rect x="646.5" y="299.5" width="7.5" height="9.5" rx="1.5" transform="rotate(-14 650 304)" fill="#fff" stroke-width="1.1"/>
<path d="M648,302.5 L653,301.5 M648.5,305.5 L653.5,304.5" stroke-width="1.3"/>
<path d="M648.5,312.5 L655.5,311 L656,313.5 L649,315 Z" fill="#222"/>
</g>
<!-- 31 floor plate -->
<g id="p31">
<path d="M527.4,312.5 C527.4,310.5 528,309.6 529.2,309.2 L538.2,306.2 L581,310.9 L586.7,314.3 L586.9,317.6 L569.6,323.8 L566.7,325.3 L532.5,320.6 L528,318.9 C527.5,317 527.4,314.5 527.4,312.5 Z" fill="#fff" stroke-width="1.2"/>
<path d="M532.5,311.6 L539.6,308.2 L579.1,312.5 L583.8,315.2 L568.8,321.3 L535.5,316.2 C533,315.5 531.8,313.5 532.5,311.6 Z" stroke-width="1.1"/>
<path d="M528.5,312.6 L532.5,313.5 L566.7,320.2 L568.8,321.3 M566.7,320.2 L566.7,325.2 M532.4,313.6 L532.5,320.6"/>
<path d="M540,315.5 C545,315 550,316 556,318.5" stroke-width="1.3"/>
</g>
<!-- 31a insert -->
<g id="p31a">
<path d="M688.2,335.2 L694.6,332 L700.3,332.4 L705.9,333.8 L729.9,337.7 L732,338.7 L731.4,340.1 L720.7,344 L719.3,345.1 L691,340.8 L687.5,338.7 C687.2,337.5 687.5,336 688.2,335.2 Z" fill="#fff" stroke-width="1.1"/>
<path d="M688.3,335 L694.6,332 L700.3,332.4 L705.9,333.8 L697,334.5 L692,338 L688,338.2 Z" fill="#222" stroke-width="0.8"/>
<path d="M687.8,337.8 L691.5,338.3 L718.6,343.3 L731.4,338.8 M718.6,343.3 L719.3,345.1 M692,338.3 L692,341"/>
<circle cx="697.5" cy="335.5" r="0.9" fill="#333"/>
</g>
<!-- 15a front sight -->
<g id="p15a">
<path d="M281.7,363.5 C283,361.5 286,359 288.5,358.4 L295,359.2 L296.6,361.8 L298.7,364.3 L295.8,365.5 L290.5,365.3 C290,366.5 289,366.8 287.5,366.5 C286.5,366.2 285.5,365.5 285.2,364.7 Z" fill="#fff" stroke-width="1.2"/>
<path d="M294.2,359 L295.2,359.3 L298.5,364.2 L295.8,365.4 Z" fill="#1e1e1e" stroke-width="0.9"/>
<path d="M283.5,363.8 L295.5,364.5" stroke-width="0.8"/>
</g>
<!-- 1 slide -->
<g id="p1">
<path d="M281.3,374 L366.1,387.5 L379.1,389.5 L380.3,396.5 L398,399.1 L408.6,394.7 L481,407.5 C488,407.8 493,408 495.1,408.6 C497,409.5 498.3,411 498.3,413.5 L498.3,431.4 C498,433.5 497,434.5 495.9,434.5 L486,436 L485.7,439.2 L479.4,440.8 L473.9,439.8 L433.3,433.6 L375,423.9 L286,409.5 L274.5,407.5 C273,405 272.3,400 272.3,395 L272.3,383 C272.5,379 275.5,375.5 281.3,374 Z" fill="#fff" stroke-width="1.2"/>
<path d="M273.2,378.9 L366.1,393.5 L380.3,396.5 M274.8,385.4 L433.3,410.6 L466.8,414.1" stroke-width="1.1"/>
<path d="M276,381 L276,407.8" stroke-width="0.8"/>
<path d="M366.1,387.5 L366.1,393.5 M379.1,389.5 L370,392 L366.8,393" stroke-width="1.1"/>
<path d="M398,399.1 L470.4,409.7 L481,406.2 M408.6,394.7 L409,397.6"/>
<path d="M466.8,406.8 L481,406.5 L483,410.5 L468.5,414 Z" fill="#333" stroke-width="0.9"/>
<path d="M470.4,409.7 L470.4,414.5 M483,410.5 C487,411 490,412 492,414" />
<path d="M433.3,410.3 L433.3,433.6 M435.3,410.5 L435.3,433.9 M438.9,410.9 L438.9,434.5 M440.9,411.1 L440.9,434.8 M444.6,411.5 L444.6,435.3 M446.6,411.7 L446.6,435.6 M450.4,412.1 L450.4,436.2 M452.4,412.3 L452.4,436.5 M456.2,412.7 L456.2,437.1 M458.2,412.9 L458.2,437.4 M462.0,413.3 L462.0,438.0 M464.0,413.5 L464.0,438.3 M467.6,413.9 L467.6,438.8 M469.6,414.1 L469.6,439.1" stroke-width="1"/>
<!-- breech face -->
<path d="M479.8,440.5 L480.2,416 C480.5,412 482.5,409 486,408.2" stroke-width="1"/>
<path d="M485.7,434.5 L485.7,420 C485.8,417.5 487.5,416.5 490,416.5 L496.8,416.5 C497.6,416.8 497.9,417.5 497.9,418.5 L497.9,432 C497.8,434 497,434.5 496,434.5 Z" fill="#fff" stroke-width="1.5"/>
<path d="M487.3,419.5 L489.8,419 L489.5,431.5 L487.3,431.5 Z" fill="#555" stroke-width="0.7"/>
<path d="M491.5,418.5 L495.8,418.5 L495.8,432 L491.8,432 Z" fill="#888" stroke-width="0.8"/>
<path d="M493.5,418.5 L493.5,432 M487,428 L490,427" stroke-width="0.8"/>
<!-- logo & text -->
<path d="M296.8,393 L288,391.3 C286,391 284.8,392 284.7,394 L284.6,401 C284.6,403 285.5,404 287.5,404.2 L296.8,405" stroke-width="2.2"/>
<path d="M287.5,394.5 L294.5,395.5 L294.5,401.6 L287.5,400.8 Z" fill="#444" stroke="none"/>
<text x="301.8" y="404.3" style="font-size:10px" transform="rotate(4 301.8 404.3)">17</text>
<text x="321.2" y="407.8" style="font-size:5.4px;font-weight:bold;letter-spacing:-0.3px" transform="rotate(8 321.2 407.8)">AUSTRIA</text>
<text x="362.5" y="413" style="font-size:6px;font-weight:bold;letter-spacing:-0.3px" transform="rotate(8 362.5 413)">9x19</text>
<!-- bottom ring -->
<path d="M276,408 C274,410 274.5,414.5 278,415.5 C281.5,416.3 285,414.5 286.2,410" fill="#fff" stroke-width="1.1"/>
<ellipse cx="280" cy="411.5" rx="2" ry="2.3" stroke-width="1"/>
<ellipse cx="284" cy="377" rx="2.4" ry="0.8" fill="#222"/>
</g>
<!-- 10 extractor -->
<g id="p10">
<path d="M420.3,378.6 L427.4,372.1 L430,372.3 L441,374 L442.6,375.3 L442.6,381 L440.5,383 L440.4,387 C439.5,388.5 437,388.5 436,387.2 L435.5,384 L430,381.5 L423.6,382.5 L423.6,386.2 L421,386 Z" fill="#fff" stroke-width="1.1"/>
<path d="M420.3,378.6 L423.6,379 L423.6,386.2 L420.8,386 Z" fill="#1e1e1e" stroke-width="0.8"/>
<path d="M423.6,379 L429,374.2 L441,375.8 M441,375.8 L439.8,378.8"/>
<path d="M424,380.5 C426.5,377 431.5,376.2 436.5,377.6 L439.8,378.8 L439.3,381.8 C435,380 430.5,379.8 427,381.5 L424,382 Z" fill="#1e1e1e" stroke-width="0.8"/>
<path d="M427,380.3 C430,378.6 434,378.6 437.5,379.6" stroke="#fff" stroke-width="0.9"/>
<path d="M435.8,383.8 L440.3,382.5 M436.2,386.6 C437.5,385.8 439,385.6 440.3,385.8" stroke-width="1"/>
</g>
<!-- 15 rear sight -->
<g id="p15">
<path d="M494.3,402.4 L500,393.5 L505.7,390.2 L512.2,389.6 L517.4,397.2 L502.6,403.3 Z" fill="#fff" stroke-width="1.2"/>
<path d="M500,393.5 L503,393.8 L502.6,403.3 M503,393.8 L505.7,390.6" stroke-width="1.1"/>
<path d="M505,392.3 L511.5,390.6 L511.8,397.2 L505.6,399.3 Z" fill="#1e1e1e" stroke-width="0.8"/>
<path d="M507,393 L508.8,392.6 L509,394.8 L507.2,395.2 Z" fill="#bbb" stroke="none"/>
</g>
<!-- 2 barrel -->
<g id="p2">
<path d="M253,433 L344,447 L352.1,444.1 L387.2,450.2 L385.5,455 L386.2,462 L384.2,467 L385,475 L379,476.3 L364.3,473.9 L355.4,477.9 L348,477.1 L344.8,466.5 L342.7,465.7 L252.4,451.5 C250.5,451 249.3,447 249.3,442.5 C249.3,437 251,433 253,433 Z" fill="#fff" stroke-width="1.2"/>
<ellipse cx="252.6" cy="442.3" rx="3.1" ry="9.2" stroke-width="1.1"/>
<path d="M343.1,447.4 L342.7,465.7 M343.5,448.7 L375.7,453.5 L387.2,450.2 M342.7,465.7 L375.7,470.2 L384.2,467 M375.7,453.5 L375.7,470.2" stroke-width="1.1"/>
<path d="M344,449.8 L375.2,454.6" stroke-width="0.6"/>
<path d="M377.2,455 C379.5,455.5 380.5,458 379.5,461.5 L377.5,462.5 M377.5,463.5 C380,464.5 381,466.5 380,469.5 M382.5,453 L383.8,468 M377.5,470.5 L381,475.5"/>
<path d="M355.4,469 L359.5,476.5 M362,469.8 L365,474.2 M348,468 L351,476"/>
</g>
<!-- 3 recoil spring -->
<g id="p3">
<path d="M254.4,480.6 L348.1,494.4 C351.5,495 353.3,498 353,501.5 C352.7,505.5 350,508.2 346.5,507.8 L255.9,493.8 C253,493.3 251.6,490 252,486.5 C252.3,483 253,480.6 254.4,480.6 Z" fill="#2e2e2e" stroke-width="1.1"/>
<path d="M257.1,481.0 Q257.7,487.6 255.2,493.8 M260.9,481.5 Q261.5,488.2 259.0,494.4 M264.7,482.1 Q265.3,488.7 262.8,494.9 M268.4,482.6 Q269.1,489.3 266.5,495.5 M272.2,483.2 Q272.8,489.9 270.3,496.1 M276.0,483.8 Q276.6,490.4 274.1,496.6 M279.8,484.3 Q280.4,491.0 277.9,497.2 M283.6,484.9 Q284.2,491.5 281.7,497.7 M287.3,485.4 Q288.0,492.1 285.4,498.3 M291.1,486.0 Q291.7,492.7 289.2,498.9 M294.9,486.6 Q295.5,493.2 293.0,499.4 M298.7,487.1 Q299.3,493.8 296.8,500.0 M302.5,487.7 Q303.1,494.3 300.6,500.5 M306.2,488.2 Q306.9,494.9 304.3,501.1 M310.0,488.8 Q310.6,495.5 308.1,501.7 M313.8,489.4 Q314.4,496.0 311.9,502.2 M317.6,489.9 Q318.2,496.6 315.7,502.8 M321.4,490.5 Q322.0,497.1 319.5,503.3 M325.1,491.0 Q325.8,497.7 323.2,503.9 M328.9,491.6 Q329.5,498.3 327.0,504.5 M332.7,492.2 Q333.3,498.8 330.8,505.0 M336.5,492.7 Q337.1,499.4 334.6,505.6 M340.3,493.3 Q340.9,499.9 338.4,506.1 M344.0,493.8 Q344.7,500.5 342.1,506.7 M347.8,494.4 Q348.4,501.1 345.9,507.3" stroke="#b0b0b0" stroke-width="1"/>
<ellipse cx="349" cy="501" rx="3.6" ry="6.7" fill="#fff" stroke-width="1.1" transform="rotate(8 349 501)"/>
<circle cx="349.5" cy="501.3" r="1.1" fill="#222"/>
</g>
<!-- 9 spring -->
<rect x="417" y="435.6" width="3.4" height="9.8" rx="1" fill="#222" stroke="none"/>
<!-- 8 firing pin safety -->
<g id="p8">
<path d="M414,452 L414,457.8 C414,459.5 416,460 419,460 C422,460 424,459.5 424,457.8 L424,452 Z" fill="#fff" stroke-width="1.1"/>
<ellipse cx="419" cy="451.5" rx="5" ry="1.8" fill="#333"/>
<path d="M416.5,460 L416.5,464 M421.5,460 L421.5,464"/>
<path d="M413.8,464.5 C414,462.8 416,462.5 419,462.5 C422,462.5 424,462.8 424.2,464.5 L424.2,465.5 C424,467 422,467.5 419,467.5 C416,467.5 414,467 413.8,465.5 Z" fill="#fff" stroke-width="1.1"/>
</g>
<!-- 14 cover plate -->
<g id="p14">
<path d="M479.2,469.5 L479.5,455 C480,449.5 485,447 489.5,447 C494,447.3 497,450 497,454 L496.8,464.5 L488,469.5 Z" fill="#fff" stroke-width="1.1"/>
<path d="M483,469 L483.3,455 C484,451 487,449 491,449.5"/>
<path d="M484,456 L496.5,456.5 L496.5,463.5 L492,466 L484,467 Z" fill="#2a2a2a"/>
<path d="M485,459 L495,459.5 M485,462 L494,462.5" stroke="#777" stroke-width="0.5"/>
</g>
<!-- 7 spring cups -->
<g id="p7">
<path d="M527,426 C527,424 529,423.3 531,423.5 L535,424.8 L535.5,428.5 L530.5,429.5 C528,429.5 527,428 527,426 Z" fill="#fff" stroke-width="1.1"/>
<path d="M531,424 L531.5,429" stroke-width="1.2"/>
<path d="M527,434.5 C527,432.5 529,432 531,432.2 L535.5,433.3 L535.5,437 L530.5,437.8 C528,437.8 527,436.5 527,434.5 Z" fill="#fff" stroke-width="1.1"/>
<path d="M531,432.5 L531.5,437.5 M533,433 L533,437" stroke-width="1.2"/>
</g>
<!-- 11 plunger -->
<g id="p11">
<path d="M541,411 L583,419.4 L585,419.2 L588.5,421.5 L585.5,424 L583,423.6 L541,415.5 C539,415.3 538.3,414 538.4,413 C538.6,411.5 539.5,410.8 541,411 Z" fill="#fff" stroke-width="1.1"/>
<path d="M542.6,411.3 L542.2,415.6 M582.5,419.4 L582.3,423.6 M585,419.2 L585.5,424" stroke-width="1.1"/>
</g>
<!-- 12 spring -->
<path d="M594.2,421.8 L608.8,425 C609.5,425.5 609.3,427.3 608.5,427.8 L593.8,424.8 C593,424.3 593.2,422.2 594.2,421.8 Z" fill="#1e1e1e" stroke="#1e1e1e"/>
<!-- 13 bearing -->
<g id="p13">
<path d="M614,425.2 L623,427.5 L623,430 L614,428 Z" fill="#fff" stroke-width="0.9"/>
<path d="M623,426.5 L628.5,427.3 C629.8,428.2 629.8,430.8 628.5,431.5 L623,431 Z" fill="#333"/>
</g>
<!-- 6 firing pin spring -->
<g id="p6">
<path d="M548.5,430.3 L590.7,436.9 C592.5,437.5 593,440 592.7,442 C592.3,444 591.3,444.9 589.8,444.7 L547.5,438.2 C546.3,437.8 545.8,436 545.9,434.2 C546.1,431.8 547,430.2 548.5,430.3 Z" fill="#111" stroke-width="1"/>
<path d="M551,430.8 L550.3,438.6 M555,431.4 L554.3,439.2 M559,432 L558.3,439.8 M563,432.6 L562.3,440.4 M567,433.2 L566.3,441 M571,433.8 L570.3,441.6 M575,434.4 L574.3,442.2 M579,435 L578.3,442.8 M583,435.6 L582.3,443.4 M587,436.2 L586.3,444" stroke="#555" stroke-width="0.5"/>
</g>
<!-- 5 spacer sleeve -->
<g id="p5">
<path d="M605,436.6 L630.5,440.6 L631.5,453.3 L605,449.8 C602.8,449.5 601.6,446.5 601.7,443 C601.8,439.3 603,436.6 605,436.6 Z" fill="#fff" stroke-width="1.1"/>
<ellipse cx="631" cy="447" rx="2.9" ry="6.4" fill="#fff" stroke-width="1.1"/>
<path d="M629.5,442.5 L632.8,443.2 M629.3,447 L633.5,447.3 M629.5,451 L632.8,451.5" stroke-width="1.3"/>
</g>
<!-- 4 firing pin -->
<g id="p4">
<path d="M643.7,447.3 L699.1,457.4 L699.1,462.4 L643.7,453 L641,450.5 Z" fill="#fff" stroke-width="1"/>
<path d="M643.5,447.3 L656.5,449.5 L656.5,455 L643.5,453 L641,450.3 Z" fill="#8a8a8a" stroke-width="1.2"/><path d="M644,449 L656,451 M644,451.3 L656,453.2 M650,448.5 L650,454" stroke="#333" stroke-width="0.7"/>
<path d="M668.5,452 L668.5,457.5 M686.2,455 L686.2,460.7 M687.6,455.3 L687.6,461" stroke-width="1.1"/>
<path d="M698.4,456.8 L704,457 C706,457.5 706.5,459.5 706,462 L705.6,470 C705,471.5 700,471.5 699.8,470 L699.5,462.5" fill="#fff" stroke-width="1.1"/>
<path d="M698.5,458 L701.5,458 L701.5,462.3 L698.8,462 Z" fill="#222"/>
</g>

<g transform="translate(375.4 51.3) scale(0.98 1.06)"><text>25.</text></g>
<g transform="translate(462.4 82.8) scale(0.98 1.06)"><text>24.</text></g>
<g transform="translate(485.1 92.2) scale(0.98 1.06)"><text>23.</text></g>
<g transform="translate(424.0 102.5) scale(0.98 1.06)"><text>22.</text></g>
<g transform="translate(342.3 107.5) scale(0.98 1.06)"><text>21.</text><rect x="5.82" y="-0.9" width="3.01" height="1.4" fill="#fff" stroke="none"/><rect x="9.86" y="-0.9" width="2.20" height="1.4" fill="#fff" stroke="none"/></g>
<g transform="translate(390.5 148.0) scale(0.98 1.06)"><text>26.</text></g>
<g transform="translate(642.6 129.3) scale(0.98 1.06)"><text>29.</text></g>
<g transform="translate(295.8 155.5) scale(0.98 1.06)"><text>16.</text><rect x="-0.30" y="-0.9" width="3.01" height="1.4" fill="#fff" stroke="none"/><rect x="3.74" y="-0.9" width="2.20" height="1.4" fill="#fff" stroke="none"/></g>
<g transform="translate(647.0 169.8) scale(0.98 1.06)"><text>30.</text></g>
<g transform="translate(573.4 176.3) scale(0.98 1.06)"><text>32.</text></g>
<g transform="translate(485.4 173.4) scale(0.98 1.06)"><text>18.</text><rect x="-0.30" y="-0.9" width="3.01" height="1.4" fill="#fff" stroke="none"/><rect x="3.74" y="-0.9" width="2.20" height="1.4" fill="#fff" stroke="none"/></g>
<g transform="translate(271.2 200.0) scale(0.98 1.06)"><text>20.</text></g>
<g transform="translate(224.8 208.2) scale(0.98 1.06)"><text>19.</text><rect x="-0.30" y="-0.9" width="3.01" height="1.4" fill="#fff" stroke="none"/><rect x="3.74" y="-0.9" width="2.20" height="1.4" fill="#fff" stroke="none"/></g>
<g transform="translate(301.8 211.0) scale(0.98 1.06)"><text>28.</text></g>
<g transform="translate(483.0 212.9) scale(0.98 1.06)"><text>17.</text><rect x="-0.30" y="-0.9" width="3.01" height="1.4" fill="#fff" stroke="none"/><rect x="3.74" y="-0.9" width="2.20" height="1.4" fill="#fff" stroke="none"/></g>
<g transform="translate(243.6 226.0) scale(0.98 1.06)"><text>33.</text></g>
<g transform="translate(352.9 252.0) scale(0.98 1.06)"><text>27.</text></g>
<g transform="translate(537.2 301.0) scale(0.98 1.06)"><text>31.</text><rect x="5.82" y="-0.9" width="3.01" height="1.4" fill="#fff" stroke="none"/><rect x="9.86" y="-0.9" width="2.20" height="1.4" fill="#fff" stroke="none"/></g>
<g transform="translate(688.6 328.3) scale(0.98 1.06)"><text>31a.</text><rect x="5.82" y="-0.9" width="3.01" height="1.4" fill="#fff" stroke="none"/><rect x="9.86" y="-0.9" width="2.20" height="1.4" fill="#fff" stroke="none"/></g>
<g transform="translate(275.1 353.3) scale(0.98 1.06)"><text>15a.</text><rect x="-0.30" y="-0.9" width="3.01" height="1.4" fill="#fff" stroke="none"/><rect x="3.74" y="-0.9" width="2.20" height="1.4" fill="#fff" stroke="none"/></g>
<g transform="translate(421.0 368.0) scale(0.98 1.06)"><text>10.</text><rect x="-0.30" y="-0.9" width="3.01" height="1.4" fill="#fff" stroke="none"/><rect x="3.74" y="-0.9" width="2.20" height="1.4" fill="#fff" stroke="none"/></g>
<g transform="translate(325.1 372.8) scale(0.98 1.06)"><text>1.</text><rect x="-0.30" y="-0.9" width="3.01" height="1.4" fill="#fff" stroke="none"/><rect x="3.74" y="-0.9" width="2.20" height="1.4" fill="#fff" stroke="none"/></g>
<g transform="translate(491.6 388.0) scale(0.98 1.06)"><text>15.</text><rect x="-0.30" y="-0.9" width="3.01" height="1.4" fill="#fff" stroke="none"/><rect x="3.74" y="-0.9" width="2.20" height="1.4" fill="#fff" stroke="none"/></g>
<g transform="translate(557.6 411.2) scale(0.98 1.06)"><text>11.</text><rect x="-0.30" y="-0.9" width="3.01" height="1.4" fill="#fff" stroke="none"/><rect x="3.74" y="-0.9" width="2.20" height="1.4" fill="#fff" stroke="none"/><rect x="5.82" y="-0.9" width="3.01" height="1.4" fill="#fff" stroke="none"/><rect x="9.86" y="-0.9" width="2.20" height="1.4" fill="#fff" stroke="none"/></g>
<g transform="translate(524.5 418.8) scale(0.98 1.06)"><text>7.</text></g>
<g transform="translate(598.8 419.0) scale(0.98 1.06)"><text>12.</text><rect x="-0.30" y="-0.9" width="3.01" height="1.4" fill="#fff" stroke="none"/><rect x="3.74" y="-0.9" width="2.20" height="1.4" fill="#fff" stroke="none"/></g>
<g transform="translate(622.3 421.6) scale(0.98 1.06)"><text>13.</text><rect x="-0.30" y="-0.9" width="3.01" height="1.4" fill="#fff" stroke="none"/><rect x="3.74" y="-0.9" width="2.20" height="1.4" fill="#fff" stroke="none"/></g>
<g transform="translate(585.9 435.0) scale(0.98 1.06)"><text>6.</text></g>
<g transform="translate(308.3 436.0) scale(0.98 1.06)"><text>2.</text></g>
<g transform="translate(631.5 438.8) scale(0.98 1.06)"><text>5.</text></g>
<g transform="translate(403.6 441.0) scale(0.98 1.06)"><text>9.</text></g>
<g transform="translate(671.2 446.6) scale(0.98 1.06)"><text>4.</text></g>
<g transform="translate(463.1 455.2) scale(0.98 1.06)"><text>14.</text><rect x="-0.30" y="-0.9" width="3.01" height="1.4" fill="#fff" stroke="none"/><rect x="3.74" y="-0.9" width="2.20" height="1.4" fill="#fff" stroke="none"/></g>
<g transform="translate(403.6 456.0) scale(0.98 1.06)"><text>8.</text></g>
<g transform="translate(280.3 482.0) scale(0.98 1.06)"><text>3.</text></g>
</svg>
</body></html>
